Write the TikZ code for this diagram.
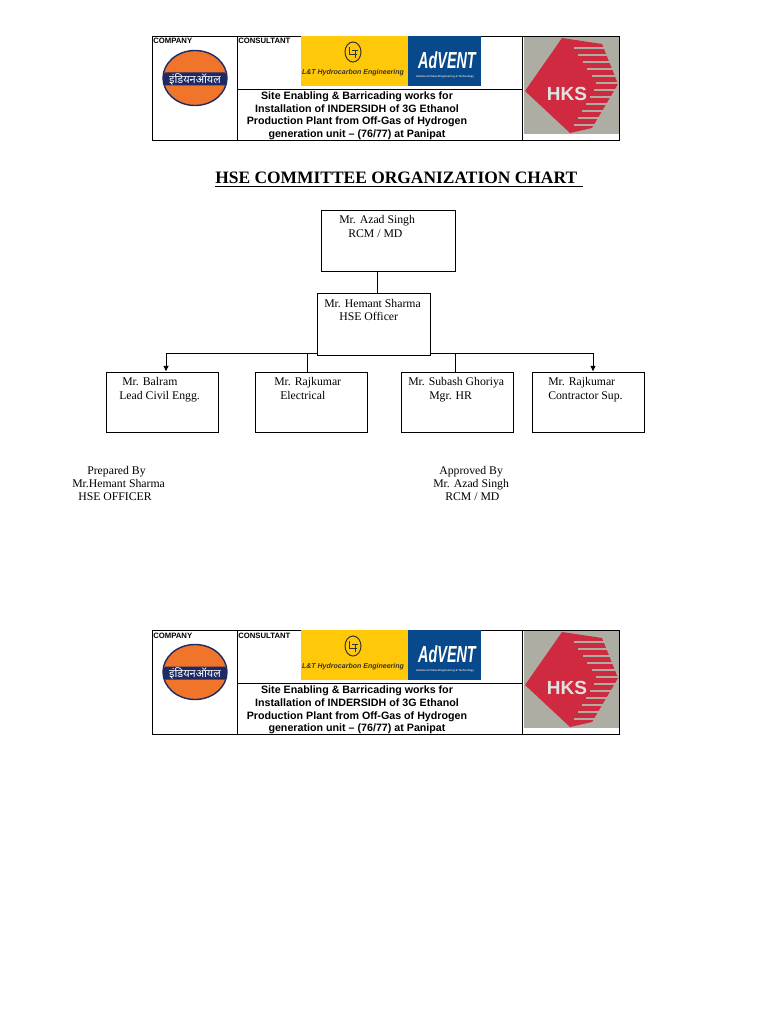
\documentclass[tikz,border=0pt]{standalone}
\usepackage{fontspec}
\setmainfont{Liberation Serif}
\setsansfont{Liberation Sans}
\newfontfamily\devanfont[Script=Devanagari]{Noto Sans}
\usepackage{tikz}
\usetikzlibrary{arrows.meta,shapes.geometric}
\definecolor{HSEYellow}{HTML}{FFC90A}
\definecolor{HSEBlue}{HTML}{07498A}
\definecolor{HSEOrange}{HTML}{F0742A}
\definecolor{HSENavy}{HTML}{1D2A66}
\definecolor{HSERed}{HTML}{CF2A40}
\definecolor{HSEGrey}{HTML}{ADADA3}
\newcommand{\sitehead}[2]{%
\begin{scope}[shift={(0,#2)}]
\node[hcell,minimum width=2.125cm,minimum height=2.6cm] (#1comp) at (194.5,88) {};
\node[hcell,minimum width=7.125cm,minimum height=1.3375cm] (#1cons) at (379.5,62.75) {};
\node[hcell,minimum width=7.125cm,minimum height=1.2625cm] (#1site) at (379.5,114.75) {};
\node[hcell,minimum width=2.425cm,minimum height=2.6cm] (#1hks) at (570.5,88) {};
\node[htag] (#1ctag) at (153,44) {COMPANY};
\node[htag] (#1ntag) at (238,44) {CONSULTANT};
\node[draw=HSENavy,line width=1pt,fill=HSEOrange,ellipse,minimum width=1.6cm,minimum height=1.375cm,inner sep=0pt] (#1ioc) at (195,78) {};
\node[fill=HSENavy,minimum width=1.55cm,minimum height=0.325cm,inner sep=0pt,rounded corners=1pt,text=white,font=\devanfont\bfseries\fontsize{7.8}{8}\selectfont] (#1band) at (195,79) {इंडियनऑयल};
\node[fill=HSEYellow,minimum width=2.675cm,minimum height=1.225cm,inner sep=0pt] (#1lt) at (354.5,61) {};
\node[draw=black!80,ellipse,line width=0.7pt,minimum width=0.4cm,minimum height=0.5cm,inner sep=0pt] (#1ltc) at (353,52) {};
\draw[black!80,line width=0.6pt] (349,47) -- (349,54) -- (357,54) (352,50) -- (358,50) (355,50) -- (355,58);
\node[font=\sffamily\bfseries\itshape\fontsize{5}{6}\selectfont,text=black!80] (#1ltt) at (353,73) {L\&T Hydrocarbon Engineering};
\node[fill=HSEBlue,minimum width=1.825cm,minimum height=1.225cm,inner sep=0pt] (#1adv) at (444.5,61) {};
\node[font=\sffamily\bfseries\itshape\fontsize{16.5}{17}\selectfont,text=white] (#1advt) at (447,60) {\scalebox{0.62}[1]{AdVENT}};
\node[font=\sffamily\bfseries\fontsize{2}{3}\selectfont,text=white!85!black] (#1advs) at (445,76.5) {Advanced Value Engineering \& Technology};
\node[fill=HSEGrey,minimum width=2.375cm,minimum height=2.425cm,inner sep=0pt] (#1photo) at (571.5,85.5) {};
\fill[HSERed] (525,91) -- (562,38) -- (602,44) -- (618,84) -- (592,128) -- (570,133) -- cycle;
\foreach \yy/\xx in {48/574,55/578,62/583,69/587,76/592,83/596,90/594,97/590,104/586,111/582,118/578,125/574}
  \draw[HSEGrey,line width=1.6pt] (\xx,\yy) -- (619,\yy);
\node[font=\sffamily\bfseries\fontsize{13.5}{14}\selectfont,text=HSEGrey!35!white] (#1hkt) at (567,94) {HKS};
\node[sitetext] (#1stxt) at (357,116) {Site Enabling \& Barricading works for\\Installation of INDERSIDH of 3G Ethanol\\Production Plant from Off-Gas of Hydrogen\\generation unit -- (76/77) at Panipat};
\end{scope}}
\begin{document}
\begin{tikzpicture}[x=0.025cm,y=-0.025cm,>={Latex[length=4pt,width=4pt]},
 hcell/.style={draw=black,line width=0.6pt,inner sep=0pt},
 htag/.style={anchor=base west,inner sep=0pt,font=\sffamily\bfseries\fontsize{5.5}{6}\selectfont},
 sitetext/.style={align=center,inner sep=0pt,font=\sffamily\bfseries\fontsize{7.6}{8.9}\selectfont},
 rolebox/.style={draw=black,line width=0.6pt,inner sep=0pt},
 lowbox/.style={rolebox,minimum width=2.8cm,minimum height=1.5cm},
 nameline/.style={anchor=base west,inner sep=0pt,font=\fontsize{8.35}{9}\selectfont}]
\useasboundingbox (0,0) rectangle (768,1024);
\fill[white] (0,0) rectangle (768,1024);
\sitehead{a}{0}
\sitehead{b}{594}
\node[anchor=base west,inner sep=0pt,font=\bfseries\fontsize{12.4}{13}\selectfont] (title) at (215,183.5) {HSE COMMITTEE ORGANIZATION CHART};
\draw[line width=0.9pt] (215,186.5) -- (583,186.5);
\node[rolebox,minimum width=3.35cm,minimum height=1.525cm] (azad) at (388,240.5) {};
\node[rolebox,minimum width=2.825cm,minimum height=1.55cm] (hemant) at (373.5,324) {};
\node[lowbox] (balram) at (162,402) {};
\node[lowbox] (rajel) at (311,402) {};
\node[lowbox] (subash) at (457.5,402) {};
\node[lowbox] (rajcon) at (588,402) {};
\coordinate (busl) at (166,353);
\coordinate (busr) at (593,353);
\coordinate (stema) at (307,353);
\coordinate (stemb) at (455,353);
\draw[line width=0.6pt] (azad.south -| 377,0) -- (hemant.north -| 377,0);
\draw[->,line width=0.6pt] (hemant.west |- busl) -- (busl) -- (busl |- balram.north);
\draw[->,line width=0.6pt] (hemant.east |- busr) -- (busr) -- (busr |- rajcon.north);
\draw[line width=0.6pt] (stema) -- (stema |- rajel.north);
\draw[line width=0.6pt] (stemb) -- (stemb |- subash.north);
\node[nameline] (azad1) at (339,224) {Mr. Azad Singh};
\node[nameline] (azad2) at (348,237) {RCM / MD};
\node[nameline] (hem1) at (324,307) {Mr. Hemant Sharma};
\node[nameline] (hem2) at (339,320) {HSE Officer};
\node[nameline] (bal1) at (122,385) {Mr. Balram};
\node[nameline] (bal2) at (119,399) {Lead Civil Engg.};
\node[nameline] (rel1) at (274,385) {Mr. Rajkumar};
\node[nameline] (rel2) at (280,399) {Electrical};
\node[nameline] (sub1) at (408,385) {Mr. Subash Ghoriya};
\node[nameline] (sub2) at (429,399) {Mgr. HR};
\node[nameline] (rcn1) at (548,385) {Mr. Rajkumar};
\node[nameline] (rcn2) at (548,399) {Contractor Sup.};
\node[nameline] (prep1) at (87,474) {Prepared By};
\node[nameline] (prep2) at (72,487) {Mr.Hemant Sharma};
\node[nameline] (prep3) at (78,500) {HSE OFFICER};
\node[nameline] (appr1) at (439,474) {Approved By};
\node[nameline] (appr2) at (433,487) {Mr. Azad Singh};
\node[nameline] (appr3) at (445,500) {RCM / MD};
\end{tikzpicture}
\end{document}
